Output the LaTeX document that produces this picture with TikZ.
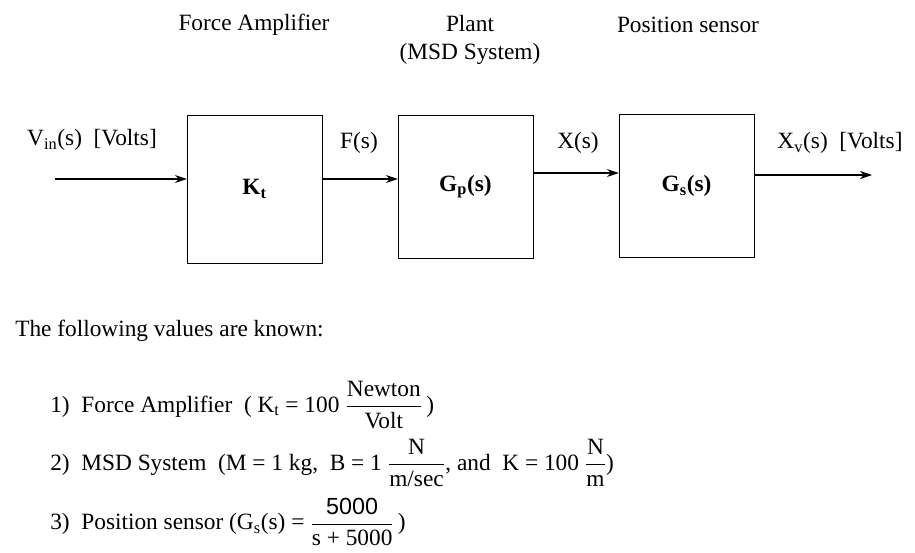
\documentclass[tikz,border=0pt]{standalone}
\usepackage{amsmath}
\usepackage{fontspec}
\setmainfont{Liberation Serif}
\newfontfamily\arialfont{Liberation Sans}
\usetikzlibrary{arrows.meta, positioning}
\tikzset{%
  block/.style = {rectangle, draw, thin, minimum width=101pt, minimum height=108pt,
                  font=\fontsize{17.5}{21}\selectfont\bfseries},
  sig/.style = {-{Stealth[length=9pt, width=6pt]}, thick},
  lbl/.style = {inner sep=0pt},
  item/.style = {anchor=west, inner sep=0pt}
  }

\begin{document}
\begin{tikzpicture}[x=0.75pt, y=-0.75pt, font=\fontsize{17.5}{21}\selectfont]
  \useasboundingbox (0,0) rectangle (915,553);

  % blocks
  \node (amp) [block, minimum height=111pt] at (254.5,189) {K$_\mathbf{t}$};
  \node (plant) [block, minimum height=107pt] at (465.5,186.5) {G$_\mathbf{p}$(s)};
  \node (sensor) [block, minimum height=107pt] at (686.5,186) {G$_\mathbf{s}$(s)};
  \coordinate (in) at (55,179);
  \coordinate (out) at (872,175);

  % signals
  \draw[sig] (in) -- (in -| amp.west);
  \draw[sig] (amp.east |- 0,179) -- (plant.west |- 0,179);
  \draw[sig] (plant.east |- 0,173) -- (sensor.west |- 0,173);
  \draw[sig] (sensor.east |- out) -- (out);

  % labels
  \node[lbl] (ampt) at (254,25) {Force Amplifier};
  \node[lbl, align=center] (plantt) at (470,40) {Plant\\(MSD System)};
  \node[lbl] (senst) at (688,25) {Position sensor};
  \node[lbl] (vin) at (92,140) {V$_\text{in}$(s)\ \ [Volts]};
  \node[lbl] (fs) at (359,143) {F(s)};
  \node[lbl] (xs) at (578,143) {X(s)};
  \node[lbl] (xv) at (840,143) {X$_\text{v}$(s)\ \ [Volts]};

  % known values
  \node[item] (intro) at (15,331) {The following values are known:};
  \node[item] (v1) at (50,405) {1)\ \ Force Amplifier \ ( K$_\text{t}$ = 100
    $\dfrac{\text{Newton}}{\text{Volt}}$\,)};
  \node[item] (v2) at (50,463) {2)\ \ MSD System \ (M = 1 kg, \ B = 1
    $\dfrac{\text{N}}{\text{m/sec}}$, and \ K = 100 $\dfrac{\text{N}}{\text{m}}$)};
  \node[item] (v3) at (50,522) {3)\ \ Position sensor (G$_\text{s}$(s) =
    $\dfrac{\text{\arialfont 5000}}{\text{s + 5000}}$\,)};
\end{tikzpicture}
\end{document}
